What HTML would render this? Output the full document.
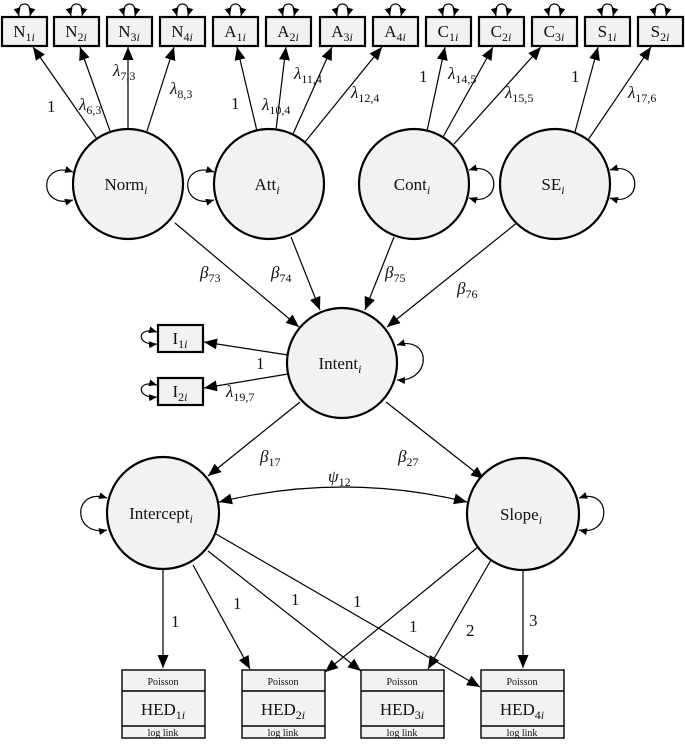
<!DOCTYPE html>
<html><head><meta charset="utf-8"><style>
html,body{margin:0;padding:0;background:#fff;}
svg{display:block;}
text{font-family:"Liberation Serif",serif;fill:#111;}
.n{font-size:17px;text-anchor:middle;}
.l{font-size:17px;}
.s{font-size:12px;}
.i{font-style:italic;}
</style></head><body>
<svg width="685" height="749" viewBox="0 0 685 749" xmlns="http://www.w3.org/2000/svg">
<defs>
<marker id="a" markerUnits="userSpaceOnUse" markerWidth="14" markerHeight="12" refX="13" refY="5.5" orient="auto-start-reverse"><path d="M0,0 L13,5.5 L0,11 z" fill="#000"/></marker>
<marker id="b" markerUnits="userSpaceOnUse" markerWidth="9" markerHeight="8" refX="8" refY="3.5" orient="auto-start-reverse"><path d="M0,0 L8,3.5 L0,7 z" fill="#000"/></marker>
</defs>
<g stroke="#000" stroke-width="1.2" fill="none">
<g marker-start="url(#b)" marker-end="url(#b)">
<path d="M19,16 C15,0 34,0 30,16"/><path d="M71,16 C67,0 86,0 82,16"/><path d="M124,16 C120,0 139,0 135,16"/><path d="M177,16 C173,0 192,0 188,16"/>
<path d="M230,16 C226,0 245,0 241,16"/><path d="M283,16 C279,0 298,0 294,16"/><path d="M337,16 C333,0 352,0 348,16"/><path d="M390,16 C386,0 405,0 401,16"/>
<path d="M443,16 C439,0 458,0 454,16"/><path d="M496,16 C492,0 511,0 507,16"/><path d="M549,16 C545,0 564,0 560,16"/><path d="M602,16 C598,0 617,0 613,16"/><path d="M655,16 C651,0 670,0 666,16"/>
<path d="M157,332 C136,326 136,346 157,344"/><path d="M157,385 C136,379 136,399 157,397"/>
<path d="M73,172 C38,160 38,210 73,200"/>
<path d="M214,172 C179,160 179,210 214,200"/>
<path d="M469,170 C502,160 502,208 469,198"/>
<path d="M610,170 C643,160 643,208 610,198"/>
<path d="M397,345 C432,335 432,382 397,380"/>
<path d="M107,498 C72,487 72,537 107,530"/>
<path d="M579,498 C612,487 612,537 579,530"/>
</g>
<g marker-end="url(#a)">
<path d="M97,139 L33,47"/><path d="M110,131 L80,47"/><path d="M128,129 L128,47"/><path d="M147,131 L174,47"/>
<path d="M257,131 L237,47"/><path d="M276,130 L286,47"/><path d="M293,134 L332,47"/><path d="M305,142 L382,47"/>
<path d="M427,131 L445,47"/><path d="M443,137 L493,47"/><path d="M454,144 L541,47"/>
<path d="M575,132 L598,47"/><path d="M588,140 L651,47"/>
<path d="M175,223 L299,327"/><path d="M291,237 L320,310"/><path d="M394,237 L365,310"/><path d="M518,222 L387,327"/>
<path d="M288,355 L204,342"/><path d="M288,374 L204,388"/>
<path d="M300,402 L208,476"/><path d="M386,402 L484,479"/>
<path d="M163,569 L163,668"/><path d="M193,565 L250,669"/><path d="M208,551 L361,671"/><path d="M216,534 L480,687"/>
<path d="M478,547 L325,672"/><path d="M491,560 L428,669"/><path d="M523,570 L523,668"/>
<path d="M219,502 Q343,472 467,502" marker-start="url(#a)"/>
</g>
<g stroke-width="2.2" fill="#f2f2f2">
<circle cx="128" cy="184" r="55"/><circle cx="269" cy="184" r="55"/><circle cx="414" cy="184" r="55"/><circle cx="555" cy="184" r="55"/>
<circle cx="342" cy="363" r="55"/><circle cx="163" cy="513" r="56"/><circle cx="523" cy="514" r="56"/>
<rect x="2" y="17" width="45" height="29"/><rect x="54" y="17" width="45" height="29"/><rect x="107" y="17" width="45" height="29"/><rect x="160" y="17" width="45" height="29"/>
<rect x="213" y="17" width="45" height="29"/><rect x="266" y="17" width="45" height="29"/><rect x="320" y="17" width="45" height="29"/><rect x="373" y="17" width="45" height="29"/>
<rect x="426" y="17" width="45" height="29"/><rect x="479" y="17" width="45" height="29"/><rect x="532" y="17" width="45" height="29"/><rect x="585" y="17" width="45" height="29"/><rect x="638" y="17" width="45" height="29"/>
<rect x="158" y="325" width="45" height="27"/><rect x="158" y="378" width="45" height="27"/>
</g>
<g stroke-width="1.4" fill="#f2f2f2">
<rect x="122" y="670" width="83" height="68"/><rect x="242" y="670" width="83" height="68"/><rect x="361" y="670" width="83" height="68"/><rect x="481" y="670" width="83" height="68"/>
<path d="M122,691 H205 M122,726 H205 M242,691 H325 M242,726 H325 M361,691 H444 M361,726 H444 M481,691 H564 M481,726 H564"/>
</g>
</g>
<g class="n">
<text x="24" y="37">N<tspan class="s" dy="4">1<tspan class="i">i</tspan></tspan></text>
<text x="76" y="37">N<tspan class="s" dy="4">2<tspan class="i">i</tspan></tspan></text>
<text x="129" y="37">N<tspan class="s" dy="4">3<tspan class="i">i</tspan></tspan></text>
<text x="182" y="37">N<tspan class="s" dy="4">4<tspan class="i">i</tspan></tspan></text>
<text x="235" y="37">A<tspan class="s" dy="4">1<tspan class="i">i</tspan></tspan></text>
<text x="288" y="37">A<tspan class="s" dy="4">2<tspan class="i">i</tspan></tspan></text>
<text x="342" y="37">A<tspan class="s" dy="4">3<tspan class="i">i</tspan></tspan></text>
<text x="395" y="37">A<tspan class="s" dy="4">4<tspan class="i">i</tspan></tspan></text>
<text x="448" y="37">C<tspan class="s" dy="4">1<tspan class="i">i</tspan></tspan></text>
<text x="501" y="37">C<tspan class="s" dy="4">2<tspan class="i">i</tspan></tspan></text>
<text x="554" y="37">C<tspan class="s" dy="4">3<tspan class="i">i</tspan></tspan></text>
<text x="607" y="37">S<tspan class="s" dy="4">1<tspan class="i">i</tspan></tspan></text>
<text x="660" y="37">S<tspan class="s" dy="4">2<tspan class="i">i</tspan></tspan></text>
<text x="180" y="344">I<tspan class="s" dy="4">1<tspan class="i">i</tspan></tspan></text>
<text x="180" y="397">I<tspan class="s" dy="4">2<tspan class="i">i</tspan></tspan></text>
<text x="126" y="190">Norm<tspan class="s i" dy="4">i</tspan></text>
<text x="267" y="190">Att<tspan class="s i" dy="4">i</tspan></text>
<text x="412" y="190">Cont<tspan class="s i" dy="4">i</tspan></text>
<text x="553" y="190">SE<tspan class="s i" dy="4">i</tspan></text>
<text x="340" y="369">Intent<tspan class="s i" dy="4">i</tspan></text>
<text x="161" y="519">Intercept<tspan class="s i" dy="4">i</tspan></text>
<text x="521" y="520">Slope<tspan class="s i" dy="4">i</tspan></text>
<text x="163" y="715">HED<tspan class="s" dy="4">1<tspan class="i">i</tspan></tspan></text>
<text x="283" y="715">HED<tspan class="s" dy="4">2<tspan class="i">i</tspan></tspan></text>
<text x="402" y="715">HED<tspan class="s" dy="4">3<tspan class="i">i</tspan></tspan></text>
<text x="522" y="715">HED<tspan class="s" dy="4">4<tspan class="i">i</tspan></tspan></text>
</g>
<g style="font-size:10px;text-anchor:middle">
<text x="163" y="685">Poisson</text><text x="283" y="685">Poisson</text><text x="402" y="685">Poisson</text><text x="522" y="685">Poisson</text>
<text x="163" y="736">log link</text><text x="283" y="736">log link</text><text x="402" y="736">log link</text><text x="522" y="736">log link</text>
</g>
<g class="l">
<text x="47" y="112">1</text>
<text x="79" y="110" class="i">λ<tspan class="s" style="font-style:normal" dy="4">6,3</tspan></text>
<text x="113" y="76" class="i">λ<tspan class="s" style="font-style:normal" dy="4">7,3</tspan></text>
<text x="170" y="94" class="i">λ<tspan class="s" style="font-style:normal" dy="4">8,3</tspan></text>
<text x="231" y="109">1</text>
<text x="262" y="110" class="i">λ<tspan class="s" style="font-style:normal" dy="4">10,4</tspan></text>
<text x="294" y="79" class="i">λ<tspan class="s" style="font-style:normal" dy="4">11,4</tspan></text>
<text x="351" y="98" class="i">λ<tspan class="s" style="font-style:normal" dy="4">12,4</tspan></text>
<text x="419" y="82">1</text>
<text x="448" y="79" class="i">λ<tspan class="s" style="font-style:normal" dy="4">14,5</tspan></text>
<text x="505" y="98" class="i">λ<tspan class="s" style="font-style:normal" dy="4">15,5</tspan></text>
<text x="571" y="82">1</text>
<text x="628" y="98" class="i">λ<tspan class="s" style="font-style:normal" dy="4">17,6</tspan></text>
<text x="200" y="278" class="i">β<tspan class="s" style="font-style:normal" dy="4">73</tspan></text>
<text x="271" y="278" class="i">β<tspan class="s" style="font-style:normal" dy="4">74</tspan></text>
<text x="385" y="278" class="i">β<tspan class="s" style="font-style:normal" dy="4">75</tspan></text>
<text x="457" y="294" class="i">β<tspan class="s" style="font-style:normal" dy="4">76</tspan></text>
<text x="256" y="369">1</text>
<text x="226" y="397" class="i">λ<tspan class="s" style="font-style:normal" dy="4">19,7</tspan></text>
<text x="260" y="462" class="i">β<tspan class="s" style="font-style:normal" dy="4">17</tspan></text>
<text x="398" y="462" class="i">β<tspan class="s" style="font-style:normal" dy="4">27</tspan></text>
<text x="328" y="482" class="i">ψ<tspan class="s" style="font-style:normal" dy="4">12</tspan></text>
<text x="171" y="627">1</text>
<text x="233" y="609">1</text>
<text x="291" y="605">1</text>
<text x="353" y="607">1</text>
<text x="409" y="632">1</text>
<text x="466" y="636">2</text>
<text x="529" y="626">3</text>
</g>
</svg>
</body></html>
